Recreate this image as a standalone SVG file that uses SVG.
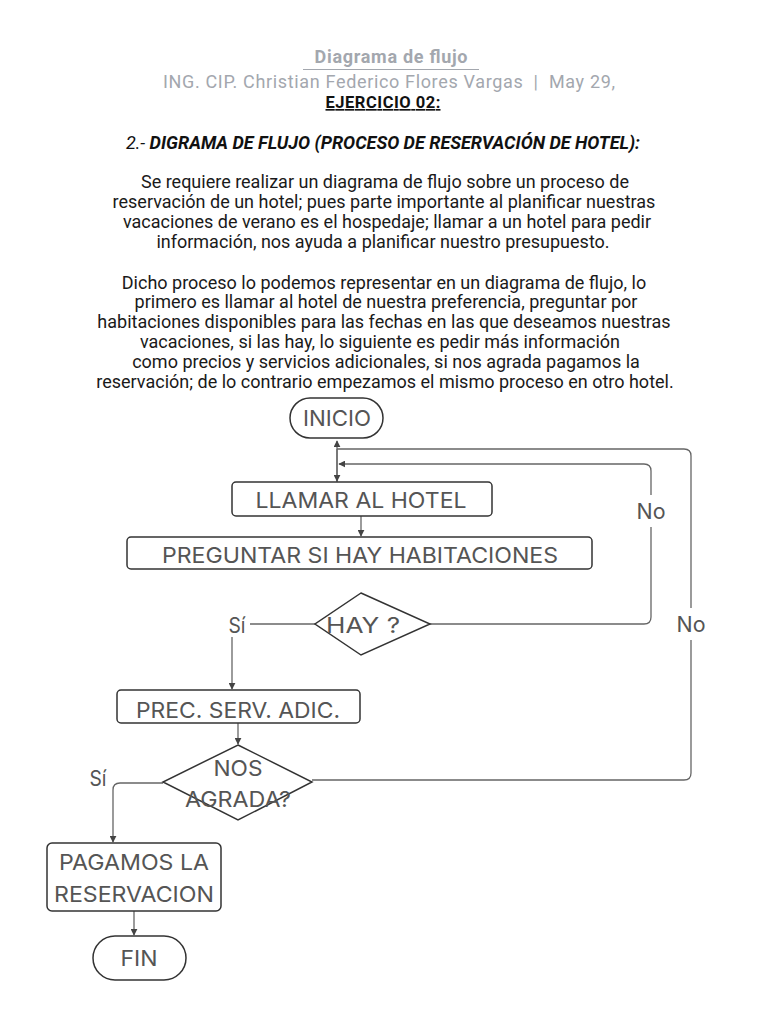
<svg xmlns="http://www.w3.org/2000/svg" width="768" height="1024" viewBox="0 0 768 1024">
<style>
.hdr{font-family:Roboto,"Liberation Sans",sans-serif;fill:#a3a7ae;text-anchor:middle}
.body{font-family:Roboto,"Liberation Sans",sans-serif;font-size:18px;fill:#1a1a1a;text-anchor:middle}
.lbl{font-family:Inter,"Liberation Sans",sans-serif;font-size:22px;fill:#555;text-anchor:middle;dominant-baseline:central}
.shape{fill:#fff;stroke:#333;stroke-width:1.5}
.conn{fill:none;stroke:#666;stroke-width:1.3}
</style>
<defs>
<marker id="ah" viewBox="0 0 10 10" refX="9" refY="5" markerWidth="7" markerHeight="7" orient="auto" markerUnits="userSpaceOnUse">
<path d="M0,0 L10,5 L0,10 z" fill="#444"/>
</marker>
</defs>
<rect width="768" height="1024" fill="#fff"/>
<text class="hdr" x="391" y="63" font-size="18" font-weight="bold" textLength="153">Diagrama de flujo</text>
<line x1="303" y1="69.5" x2="479" y2="69.5" stroke="#a3a7ae" stroke-width="1.2"/>
<text class="hdr" x="389" y="88" font-size="18" textLength="452" xml:space="preserve">ING. CIP. Christian Federico Flores Vargas  |  May 29,</text>
<text x="383" y="108" font-family="Roboto,'Liberation Sans',sans-serif" font-size="16.5" font-weight="bold" fill="#111" text-anchor="middle" text-decoration="underline" textLength="115">EJERCICIO 02:</text>
<text x="383" y="149" font-family="Roboto,'Liberation Sans',sans-serif" font-size="18" font-style="italic" fill="#111" text-anchor="middle">2.- <tspan font-weight="bold">DIGRAMA DE FLUJO (PROCESO DE RESERVACIÓN DE HOTEL):</tspan></text>
<g class="body">
<text x="385" y="188">Se requiere realizar un diagrama de flujo sobre un proceso de</text>
<text x="384" y="208">reservación de un hotel; pues parte importante al planificar nuestras</text>
<text x="387" y="228">vacaciones de verano es el hospedaje; llamar a un hotel para pedir</text>
<text x="383" y="248">información, nos ayuda a planificar nuestro presupuesto.</text>
<text x="384" y="289">Dicho proceso lo podemos representar en un diagrama de flujo, lo</text>
<text x="386" y="308">primero es llamar al hotel de nuestra preferencia, preguntar por</text>
<text x="384" y="328">habitaciones disponibles para las fechas en las que deseamos nuestras</text>
<text x="380" y="348">vacaciones, si las hay, lo siguiente es pedir más información</text>
<text x="386" y="368">como precios y servicios adicionales, si nos agrada pagamos la</text>
<text x="385" y="388">reservación; de lo contrario empezamos el mismo proceso en otro hotel.</text>
</g>
<g id="connectors">
<line class="conn" x1="337" y1="482" x2="337" y2="441" marker-end="url(#ah)"/>
<line class="conn" x1="337" y1="449" x2="337" y2="481" marker-end="url(#ah)"/>
<path class="conn" d="M430,624 H644 Q651,624 651,617 V527 M651,495 V471 Q651,464 644,464 H339" marker-end="url(#ah)"/>
<path class="conn" d="M312,780 H684 Q691,780 691,773 V640 M691,608 V456 Q691,449 684,449 H337"/>
<line class="conn" x1="361" y1="516" x2="361" y2="536" marker-end="url(#ah)"/>
<line class="conn" x1="315" y1="624" x2="250" y2="624"/>
<line class="conn" x1="232" y1="637" x2="232" y2="689" marker-end="url(#ah)"/>
<line class="conn" x1="238" y1="723" x2="238" y2="744" marker-end="url(#ah)"/>
<path class="conn" d="M163,783 H120 Q113,783 113,790 V842" marker-end="url(#ah)"/>
<line class="conn" x1="134" y1="911" x2="134" y2="935" marker-end="url(#ah)"/>
<text class="lbl" x="651" y="511" textLength="29" lengthAdjust="spacingAndGlyphs">No</text>
<text class="lbl" x="691" y="624" textLength="29" lengthAdjust="spacingAndGlyphs">No</text>
<text class="lbl" x="237" y="625" textLength="17" lengthAdjust="spacingAndGlyphs">Sí</text>
<text class="lbl" x="98" y="778" textLength="17" lengthAdjust="spacingAndGlyphs">Sí</text>
</g>
<g id="inicio">
<rect class="shape" x="290" y="398" width="93" height="40" rx="20"/>
<text class="lbl" x="337" y="418" textLength="68" lengthAdjust="spacingAndGlyphs">INICIO</text>
</g>
<g id="llamar">
<rect class="shape" x="232" y="482" width="260" height="34" rx="4"/>
<text class="lbl" x="361" y="500" textLength="211" lengthAdjust="spacingAndGlyphs">LLAMAR AL HOTEL</text>
</g>
<g id="preguntar">
<rect class="shape" x="127" y="537" width="465" height="32" rx="4"/>
<text class="lbl" x="360" y="555" textLength="396" lengthAdjust="spacingAndGlyphs">PREGUNTAR SI HAY HABITACIONES</text>
</g>
<g id="hay">
<polygon class="shape" points="361,593 430,624 361,655 315,624"/>
<text class="lbl" x="363" y="625" textLength="74" lengthAdjust="spacingAndGlyphs">HAY ?</text>
</g>
<g id="prec">
<rect class="shape" x="117" y="690" width="243" height="33" rx="4"/>
<text class="lbl" x="238" y="710" textLength="204" lengthAdjust="spacingAndGlyphs">PREC. SERV. ADIC.</text>
</g>
<g id="agrada">
<polygon class="shape" points="238,745 312,782 238,820 163,782"/>
<text class="lbl" x="238" y="768" textLength="49" lengthAdjust="spacingAndGlyphs">NOS</text>
<text class="lbl" x="238" y="799" textLength="106" lengthAdjust="spacingAndGlyphs">AGRADA?</text>
</g>
<g id="pagamos">
<rect class="shape" x="47" y="843" width="174" height="68" rx="5"/>
<text class="lbl" x="134" y="862" textLength="150" lengthAdjust="spacingAndGlyphs">PAGAMOS LA</text>
<text class="lbl" x="134" y="894" textLength="160" lengthAdjust="spacingAndGlyphs">RESERVACION</text>
</g>
<g id="fin">
<rect class="shape" x="93" y="936" width="93" height="44" rx="22"/>
<text class="lbl" x="139" y="958" textLength="37" lengthAdjust="spacingAndGlyphs">FIN</text>
</g>
</svg>
